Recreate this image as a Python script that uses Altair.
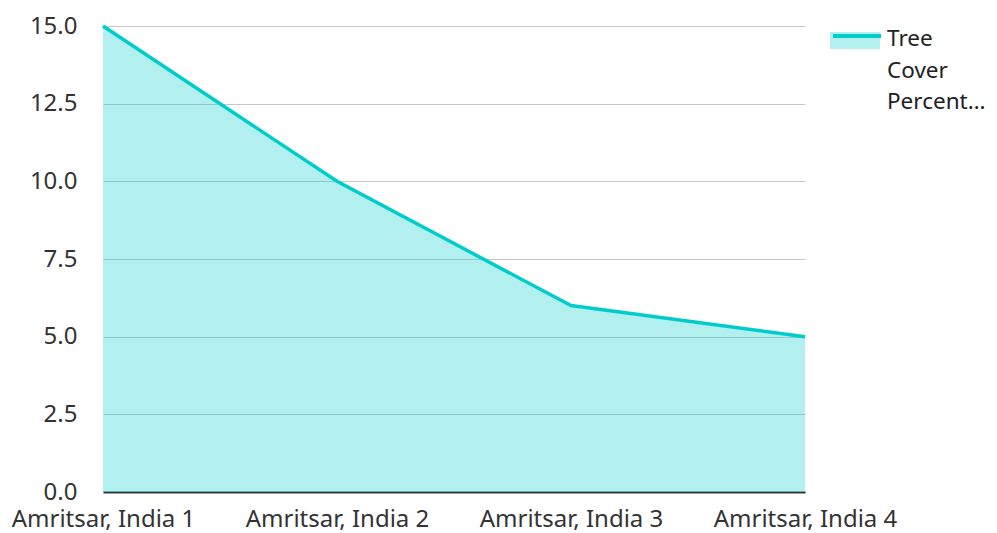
import altair as alt
import pandas as pd

categories = ["Amritsar, India 1", "Amritsar, India 2", "Amritsar, India 3", "Amritsar, India 4"]
values = [15, 10, 6, 5]
series_name = "Tree Cover Percentage"
legend_lines = ["Tree", "Cover", "Percent…"]

df = pd.DataFrame({"city": categories, "value": values, "series": [series_name] * len(values)})

TEAL = "#00cccc"
FONT = "Noto Sans"
FS = 24

x = alt.X("city:N", sort=categories, scale=alt.Scale(type="point", padding=0),
          axis=alt.Axis(title=None, labelAngle=0, labelFontSize=FS, labelColor="#333333",
                        labelFont=FONT, labelPadding=15, ticks=False, grid=False,
                        domainColor="#333333", domainWidth=2, labelOverlap=False,
                        labelBound=False, labelFlush=False, labelLimit=400))
y = alt.Y("value:Q", scale=alt.Scale(domain=[0, 15], nice=False),
          axis=alt.Axis(title=None, values=[0, 2.5, 5, 7.5, 10, 12.5, 15], format=".1f",
                        labelFontSize=FS, labelColor="#333333", labelFont=FONT,
                        labelPadding=26, ticks=False, domain=False,
                        gridColor="#c8c8c8", gridWidth=1))

area = alt.Chart(df).mark_area(opacity=0.3).encode(
    x=x, y=y,
    fill=alt.Fill("series:N", scale=alt.Scale(range=[TEAL]),
                  legend=alt.Legend(title=None, orient="none", legendX=727, legendY=13,
                                    symbolType="M-1,-1.28H1V-0.6H-1Z", symbolSize=2500,
                                    symbolStrokeWidth=0, symbolOpacity=0.3,
                                    labelExpr="''", labelFontSize=FS, labelOffset=0)),
)

line = alt.Chart(df).mark_line(strokeWidth=3.5, color=TEAL).encode(
    x=x, y=y,
    stroke=alt.Stroke("series:N", scale=alt.Scale(range=[TEAL]),
                      legend=alt.Legend(title=legend_lines, orient="none", legendX=727, legendY=14,
                                        titleOrient="right", titleAlign="left", titleBaseline="top",
                                        titleFontSize=22.5, titleFont=FONT, titleFontWeight="normal",
                                        titleColor="#222222", titleLineHeight=31.5,
                                        titlePadding=-2, titleLimit=300,
                                        symbolType="M-0.96,-1.24H0.96", symbolSize=2500,
                                        symbolStrokeWidth=4,
                                        labelExpr="''", labelFontSize=FS, labelOffset=0)),
)

chart = alt.layer(area, line).resolve_scale(fill="independent", stroke="independent").properties(
    width=702, height=466,
    autosize=alt.AutoSizeParams(type="none"),
    padding={"left": 95, "top": 18, "right": 184, "bottom": 40},
).configure(font=FONT).configure_view(stroke=None)

chart.save("out.html", embed_options={"renderer": "svg", "actions": False})
